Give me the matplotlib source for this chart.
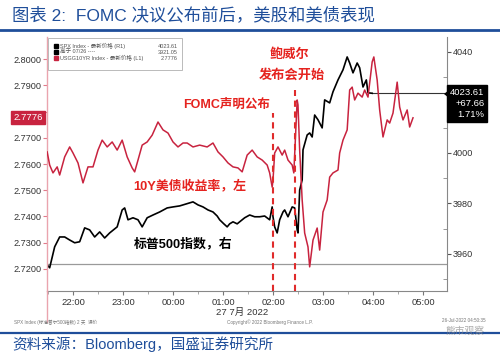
import matplotlib
matplotlib.use("Agg")
import matplotlib.pyplot as plt
from matplotlib.lines import Line2D
from matplotlib.patches import Rectangle, Polygon

plt.rcParams["font.family"] = ["Liberation Sans", "Noto Sans CJK SC", "DejaVu Sans"]

# minutes relative to 22:00 (Beijing time)
spx_min = [-31, -28, -22, -16, -10, -4, 2, 8, 14, 20, 26, 32, 38, 44, 53, 59, 62, 66, 72, 78,
           83, 89, 96, 104, 113, 120, 128, 136, 144, 150, 156, 162, 168, 173, 176, 181, 185, 188,
           192, 197, 200, 206, 212, 218, 224, 230, 236, 239, 240, 242, 245, 248, 252, 254, 258,
           263, 266, 269, 270, 272, 275, 276, 281, 284, 287, 290, 294, 299, 302, 306, 308, 312,
           318, 324, 329, 332, 336, 341, 344, 348, 352, 354, 359]
spx_val = [3955.6, 3954.5, 3962.8, 3966.7, 3966.7, 3965.5, 3964.4, 3964.8, 3970.3, 3969.5,
           3966.7, 3968.7, 3966.3, 3968.3, 3970.7, 3977.4, 3978.2, 3973.5, 3974.3, 3973.5,
           3970.7, 3974.3, 3975.4, 3976.6, 3978.2, 3978.6, 3979.0, 3979.8, 3980.6, 3979.4,
           3978.6, 3977.4, 3976.6, 3975.0, 3973.5, 3971.9, 3970.7, 3971.9, 3972.7, 3971.9,
           3972.7, 3974.3, 3975.4, 3974.7, 3974.7, 3975.0, 3973.5, 3978.6, 3974.7, 3970.7,
           3968.3, 3973.5, 3976.6, 3977.4, 3974.7, 3978.6, 3978.2, 3969.5, 3968.3, 3985.3,
           3989.3, 4001.2, 4007.1, 4007.9, 4006.3, 4015.0, 4013.1, 4009.9, 4021.0, 4020.2,
           4019.8, 4024.2, 4028.9, 4032.9, 4038.0, 4035.6, 4031.7, 4035.6, 4033.7, 4026.1,
           4028.9, 4023.8, 4023.61]

ust_min = [-31, -28, -24, -19, -16, -10, -4, 0, 6, 12, 18, 24, 30, 35, 41, 47, 53, 59, 65, 71,
           74, 78, 83, 89, 95, 102, 108, 114, 120, 126, 132, 137, 144, 152, 161, 168, 174, 180,
           186, 192, 198, 203, 209, 215, 221, 227, 233, 236, 239, 240, 242, 246, 251, 254, 258,
           263, 265, 269, 270, 272, 275, 278, 282, 284, 288, 293, 296, 300, 305, 308, 312, 318,
           320, 324, 329, 332, 335, 338, 342, 347, 350, 354, 359, 361, 365, 368, 372, 377, 380,
           384, 389, 392, 396, 401, 404, 408]
ust_val = [2.7646, 2.7596, 2.7566, 2.7589, 2.7558, 2.7627, 2.7665, 2.7642, 2.7604, 2.7528,
           2.7589, 2.7589, 2.7653, 2.7691, 2.7665, 2.7684, 2.7653, 2.7691, 2.7627, 2.7585,
           2.7570, 2.7615, 2.7672, 2.7684, 2.7710, 2.7760, 2.7730, 2.7718, 2.7684, 2.7665,
           2.7680, 2.7680, 2.7665, 2.7672, 2.7665, 2.7680, 2.7646, 2.7627, 2.7604, 2.7589,
           2.7585, 2.7570, 2.7634, 2.7653, 2.7627, 2.7615, 2.7596, 2.7566, 2.7512, 2.7539,
           2.7642, 2.7665, 2.7634, 2.7653, 2.7615, 2.7596, 2.7566, 2.7844, 2.7825, 2.7653,
           2.7463, 2.7337, 2.7284, 2.7208, 2.7310, 2.7356, 2.7272, 2.7417, 2.7463, 2.7550,
           2.7566, 2.7577, 2.7642, 2.7691, 2.7730, 2.7882, 2.7893, 2.7844, 2.7870, 2.7855,
           2.7882, 2.7855, 2.7989, 2.8008, 2.7920, 2.7806, 2.7703, 2.7768, 2.7756, 2.7794,
           2.7912, 2.7817, 2.7768, 2.7806, 2.7741, 2.7776]

hour_ticks = [0, 60, 120, 180, 240, 300, 360, 420]
hour_labels = ["22:00", "23:00", "00:00", "01:00", "02:00", "03:00", "04:00", "05:00"]
left_ticks = [2.72, 2.73, 2.74, 2.75, 2.76, 2.77, 2.78, 2.79, 2.80]
right_ticks = [3960, 3980, 4000, 4020, 4040]
event_min = [240, 266]
spx_prev_close = 3955.95
spx_last = 4023.61
spx_box = "4023.61\n+67.66\n1.71%"
ust_last = 2.7776

RED = "#c8233f"
TXT_RED = "#e5231f"
BLUE = "#1f4e9a"

fig = plt.figure(figsize=(5, 3.54), dpi=100)


def fx(x):
    return x / 500


def fy(y):
    return 1 - y / 354


# SPX on the base axes (right scale), 10Y on the twin (left scale, drawn on top)
ax = fig.add_axes([fx(47), fy(291), fx(400), fy(37) - fy(291)])
axl = ax.twinx()

ax.plot(spx_min, spx_val, color="black", lw=1.2, zorder=3)
ax.axhline(spx_prev_close, color="#9a9a9a", lw=0.9, zorder=2)
ax.plot([spx_min[-1], 449], [spx_last, spx_last], color="#333333", lw=0.8, zorder=2)
axl.plot(ust_min, ust_val, color=RED, lw=1.1, zorder=3)

ax.set_xlim(-31.2, 448.8)
ax.set_ylim(3945.3, 4045.9)
axl.set_ylim(2.7116, 2.8084)

# labels hidden behind the last-value boxes, as on the terminal screen
ax.yaxis.tick_right()
ax.set_yticks(right_ticks)
ax.set_yticklabels(["" if v == 4020 else str(v) for v in right_ticks])
ax.set_yticks([3950, 3970, 3990, 4010, 4030], minor=True)
ax.tick_params(axis="y", which="major", direction="out", length=3, color="#555555",
               labelsize=6.6, labelcolor="#333333", pad=1)
ax.tick_params(axis="y", which="minor", direction="in", length=3, color="#888888")
ax.set_xticks(hour_ticks)
ax.set_xticklabels(hour_labels)
ax.set_xticks([t + 30 for t in hour_ticks if t + 30 < 448] + [-30], minor=True)
ax.tick_params(axis="x", which="major", direction="out", length=3, color="#777777",
               labelsize=6.8, labelcolor="#333333", pad=2)
ax.tick_params(axis="x", which="minor", direction="out", length=2, color="#999999")

axl.yaxis.tick_left()
axl.set_yticks(left_ticks)
axl.set_yticklabels(["" if v == 2.78 else f"{v:.4f}" for v in left_ticks])
axl.tick_params(axis="y", direction="out", length=3, color="#e07a8a",
                labelsize=6.6, labelcolor="#333333", pad=1)

for s in ["top", "left"]:
    ax.spines[s].set_visible(False)
ax.spines["right"].set_color("#888888")
ax.spines["bottom"].set_color("#888888")
ax.spines["right"].set_linewidth(0.8)
ax.spines["bottom"].set_linewidth(0.8)
for s in ["top", "right", "bottom"]:
    axl.spines[s].set_visible(False)
axl.spines["left"].set_color("#eaa4ae")
axl.spines["left"].set_linewidth(1.0)
fig.add_artist(Line2D([fx(47), fx(47)], [fy(291), fy(322)], color="#eaa4ae", lw=1.0))

# event lines
for m, top in zip(event_min, [0.70, 0.79]):
    axl.axvline(m, ymin=0, ymax=top, color="#e02b2b", lw=1.5, ls=(0, (3, 2.2)), zorder=4)

# annotations
fig.text(fx(290), fy(55), "鲍威尔", color=TXT_RED, fontsize=9.5, fontweight="bold",
         ha="center", va="center")
fig.text(fx(292), fy(75), "发布会开始", color=TXT_RED, fontsize=9.5, fontweight="bold",
         ha="center", va="center")
fig.text(fx(270), fy(105), "FOMC声明公布", color=TXT_RED, fontsize=9, fontweight="bold",
         ha="right", va="center")
fig.text(fx(133), fy(186), "10Y美债收益率，左", color=TXT_RED, fontsize=9.3, fontweight="bold",
         ha="left", va="center")
fig.text(fx(134), fy(244), "标普500指数，右", color="black", fontsize=9.3, fontweight="bold",
         ha="left", va="center")

# last value labels
ax.annotate(spx_box, xy=(1.0, spx_last), xycoords=("axes fraction", "data"),
            xytext=(27, 4), textcoords="offset points", ha="right", va="top",
            fontsize=6.8, color="white", linespacing=1.3, annotation_clip=False, zorder=10,
            bbox=dict(boxstyle="square,pad=0.3", fc="black", ec="black"))
fig.add_artist(Polygon([(fx(444), fy(94)), (fx(449), fy(90)), (fx(449), fy(98))],
                       closed=True, fc="black", ec="none"))
axl.annotate(f"{ust_last:.4f}", xy=(0.0, ust_last), xycoords=("axes fraction", "data"),
             xytext=(-3, 0), textcoords="offset points", ha="right", va="center",
             fontsize=6.8, color="white", annotation_clip=False, zorder=10,
             bbox=dict(boxstyle="square,pad=0.22", fc=RED, ec=RED))

# legend box
fig.add_artist(Rectangle((fx(48), fy(70)), fx(134), fy(38) - fy(70), fc="white",
                         ec="#b0b0b0", lw=0.6))
leg_rows = [("SPX Index - 最新价格 (R1)", "4023.61", "black"),
            ("高于 07/26 ----", "3921.05", "black"),
            ("USGG10YR Index - 最新价格 (L1)", "2.7776", RED)]
for i, (lab, val, col) in enumerate(leg_rows):
    y = 46 + i * 6
    fig.add_artist(Rectangle((fx(54), fy(y + 2)), fx(4), fy(y - 2) - fy(y + 2), fc=col, ec=col))
    fig.text(fx(60), fy(y), lab, fontsize=4, color="#555555", va="center", ha="left")
    fig.text(fx(178), fy(y), val, fontsize=4, color="#555555", va="center", ha="right")

fig.text(fx(242), fy(312), "27 7月 2022", fontsize=6.8, color="#333333", ha="center", va="center")

# footer
fig.text(fx(14), fy(322), "SPX Index (标准普尔500指数) 2 天  课价", fontsize=3.3, color="#777777",
         va="center")
fig.text(fx(270), fy(322), "Copyright© 2022 Bloomberg Finance L.P.", fontsize=3.3,
         color="#777777", va="center", ha="center")
fig.text(fx(486), fy(321), "26-Jul-2022 04:50:35", fontsize=3.3, color="#777777", va="center",
         ha="right")
fig.text(fx(484), fy(331), "熊市观察", fontsize=7, color="#888888", alpha=0.7, va="center",
         ha="right")

# title and source
fig.add_artist(Line2D([0, 1], [fy(30), fy(30)], color=BLUE, lw=2))
fig.add_artist(Line2D([0, 1], [fy(333), fy(333)], color=BLUE, lw=1.6))
fig.text(fx(12), fy(15), "图表 2:  FOMC 决议公布前后，美股和美债表现", fontsize=12.5, color=BLUE,
         va="center", ha="left")
fig.text(fx(12), fy(344), "资料来源：Bloomberg，国盛证券研究所", fontsize=10.5, color=BLUE,
         va="center", ha="left")

fig.savefig("out.png", dpi=100)
